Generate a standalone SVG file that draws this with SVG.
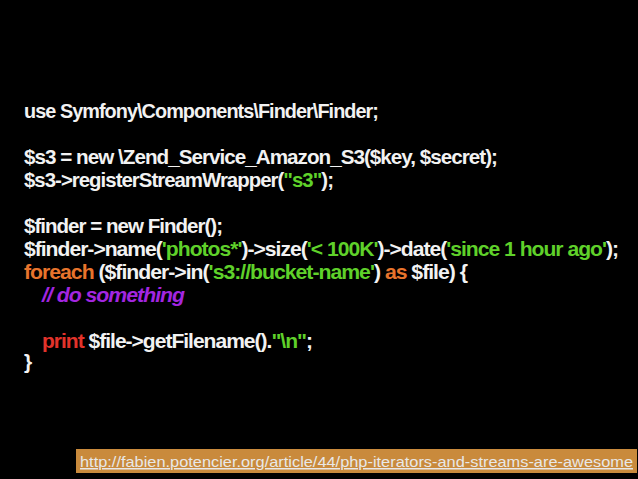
<svg xmlns="http://www.w3.org/2000/svg" width="638" height="479" viewBox="0 0 638 479">
<style>
.c{font-family:"Liberation Sans",Arial,sans-serif;font-size:21px;fill:#f2f2f2;font-weight:bold;letter-spacing:-1px}
.g{fill:#5fd12a}.o{fill:#e8742c}.p{fill:#a326e0;font-style:italic}.r{fill:#e2332b}
.l{font-family:"Liberation Sans",Arial,sans-serif;font-size:15px;fill:#e8e8e8;text-decoration:underline}
</style>
<rect width="638" height="479" fill="#000"/>
<g id="code">
<text class="c" x="24" y="118" textLength="354" lengthAdjust="spacingAndGlyphs">use Symfony\Components\Finder\Finder;</text>
<text class="c" x="24" y="164" textLength="473" lengthAdjust="spacingAndGlyphs">$s3 = new \Zend_Service_Amazon_S3($key, $secret);</text>
<text class="c" x="24" y="187" textLength="309" lengthAdjust="spacingAndGlyphs">$s3-&gt;registerStreamWrapper(<tspan class="g">"s3"</tspan>);</text>
<text class="c" x="24" y="233" textLength="198" lengthAdjust="spacingAndGlyphs">$finder = new Finder();</text>
<text class="c" x="24" y="256" textLength="594" lengthAdjust="spacingAndGlyphs">$finder-&gt;name(<tspan class="g">'photos*'</tspan>)-&gt;size(<tspan class="g">'&lt; 100K'</tspan>)-&gt;date(<tspan class="g">'since 1 hour ago'</tspan>);</text>
<text class="c" x="24" y="279" textLength="443" lengthAdjust="spacingAndGlyphs"><tspan class="o">foreach</tspan> ($finder-&gt;in(<tspan class="g">'s3://bucket-name'</tspan>) <tspan class="o">as</tspan> $file) {</text>
<text class="c p" x="42" y="302" textLength="142" lengthAdjust="spacingAndGlyphs">// do something</text>
<text class="c" x="42" y="348" textLength="270" lengthAdjust="spacingAndGlyphs"><tspan class="r">print</tspan> $file-&gt;getFilename().<tspan class="g">"\n"</tspan>;</text>
<text class="c" x="24" y="369">}</text>
</g>
<g id="link">
<rect x="76" y="449" width="561" height="24" fill="#c98a3c"/>
<text class="l" x="80" y="467" textLength="553" lengthAdjust="spacingAndGlyphs">http://fabien.potencier.org/article/44/php-iterators-and-streams-are-awesome</text>
</g>
</svg>
